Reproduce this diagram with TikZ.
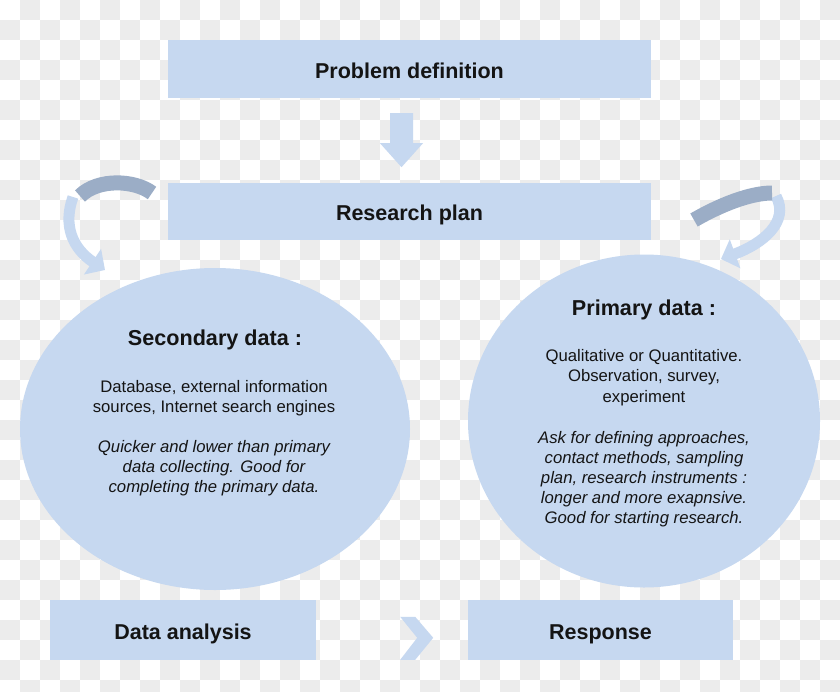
\documentclass[tikz,border=0pt]{standalone}
\usepackage{fontspec}
\setmainfont{Liberation Sans}
\usetikzlibrary{shapes.geometric}
\usetikzlibrary{arrows.meta}
\definecolor{boxblue}{RGB}{198,216,240}
\definecolor{arcdark}{RGB}{155,173,198}
\definecolor{checkgray}{RGB}{236,236,236}
\definecolor{inktext}{RGB}{20,20,20}

\begin{document}
\begin{tikzpicture}[x=1pt,y=-1pt,
        stepbox/.style={fill=boxblue, inner sep=0pt, text=inktext, text height=18pt, text depth=0pt,
            font=\bfseries\fontsize{21.5}{25}\selectfont},
        databubble/.style={ellipse, fill=boxblue, inner sep=0pt},
        bubbletitle/.style={yshift=-2pt, text=inktext, font=\bfseries\fontsize{21.6}{25}\selectfont},
        bubbletext/.style={yshift=-2.5pt, align=center, text=inktext, font=\fontsize{16.7}{20.6}\selectfont},
        bubblenote/.style={yshift=-2pt, align=center, text=inktext, font=\itshape\fontsize{16.7}{19.9}\selectfont},
    ]
        \useasboundingbox (0,0) rectangle (840,691);
        % checker background
        \fill [white] (0,0) rectangle (840,691);
        \begin{scope}
            \clip (0,0) rectangle (840,691);
            \foreach \i in {0,...,41}
                \foreach \j in {0,...,34}{
                    \pgfmathtruncatemacro\chk{mod(\i+\j,2)}
                    \ifnum\chk=1 \fill [checkgray] (\i*20,\j*20) rectangle ++(20,20); \fi
                };
        \end{scope}

        \node [stepbox, minimum width=483pt, minimum height=58pt] (prob) at (409.5,69) {Problem definition};
        \node [stepbox, minimum width=483pt, minimum height=57pt] (plan) at (409.5,211.5) {Research plan};
        \node [databubble, minimum width=390pt, minimum height=322pt] (sec) at (215,429) {};
        \node [databubble, minimum width=352pt, minimum height=333pt] (pri) at (644,421) {};
        \node [stepbox, minimum width=266pt, minimum height=60pt] (ana) at (183,630) {Data analysis};
        \node [stepbox, minimum width=265pt, minimum height=60pt] (resp) at (600.5,630) {Response};

        % texts in the bubbles
        \node [bubbletitle] (sectitle) at (215,338) {Secondary data :};
        \node [bubbletext] (secfacts) at (214,395.5) {Database, external information\\sources, Internet search engines};
        \node [bubblenote] (secnote) at (214,466) {Quicker and lower than primary\\data collecting. Good for\\completing the primary data.};
        \node [bubbletitle] (prititle) at (644,308) {Primary data :};
        \node [bubbletext] (prifacts) at (644,375) {Qualitative or Quantitative.\\Observation, survey,\\experiment};
        \node [bubblenote] (prinote) at (644,477) {Ask for defining approaches,\\contact methods, sampling\\plan, research instruments :\\longer and more exapnsive.\\Good for starting research.};

        % block arrow down
        \coordinate (dn) at ([xshift=-8pt,yshift=-15pt]prob.south);
        \fill [boxblue] ([xshift=-11.5pt]dn) -- ++(23,0) -- ++(0,30) -- ++(10,0) -- ++(-21.5,24) -- ++(-21.5,-24) -- ++(10,0) -- cycle;

        % chevron
        \coordinate (chev) at ([xshift=84pt,yshift=-17pt]ana.north east);
        \fill [boxblue] (chev) -- ++(15,0) -- ++(18,21) -- ++(-18,22) -- ++(-15,0) -- ++(17,-22) -- cycle;

        % curved arrows
        \draw [boxblue, line width=11pt, -{Triangle[width=30pt,length=15pt]}] (73,197) .. controls (63,225) and (72,248) .. (105,270);
        \draw [arcdark, line width=15pt] (152,193) .. controls (135,180) and (98,178) .. (80,196);
        \draw [boxblue, line width=11pt, -{Triangle[width=30pt,length=15pt]}] (776,196) .. controls (790,222) and (762,244) .. (721,259);
        \draw [arcdark, line width=15pt] (694,220) .. controls (720,205) and (750,193) .. (772,193);
    \end{tikzpicture}
\end{document}
